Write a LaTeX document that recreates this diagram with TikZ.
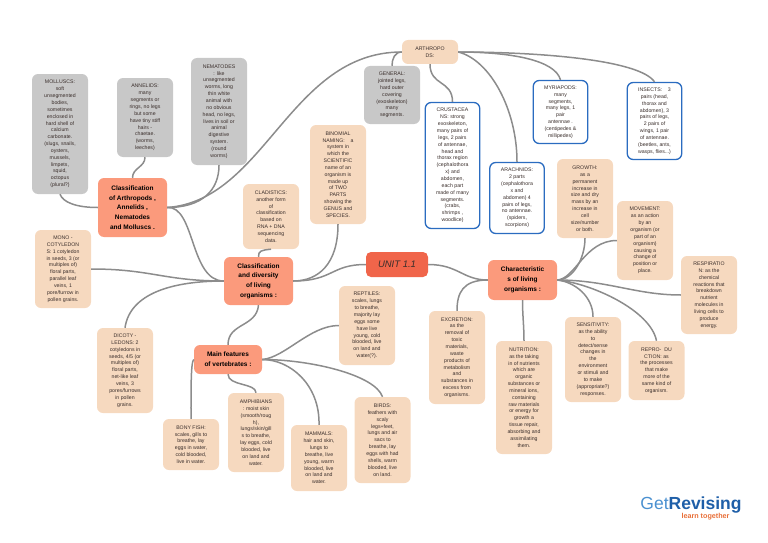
\documentclass[tikz,border=0pt]{standalone}
\usepackage{fontspec}
\usepackage{xcolor}
\setmainfont{Liberation Sans}
\definecolor{peach}{HTML}{F6D9BF}
\definecolor{ash}{HTML}{C8C8C8}
\definecolor{salmon}{HTML}{FB9A7C}
\definecolor{tomato}{HTML}{F0654A}
\definecolor{linegray}{HTML}{8C8C8C}
\definecolor{edgeblue}{HTML}{2B6CC0}
\definecolor{inkbrown}{HTML}{3A2E2B}
\definecolor{logoblue}{HTML}{4A90D0}
\definecolor{logonavy}{HTML}{1F5FA8}
\definecolor{logoorange}{HTML}{E8703A}
\tikzset{
    note/.style={rounded corners=6pt, inner sep=0pt, minimum width=56pt, align=center,
        text=inkbrown, font=\fontsize{5.2}{6.85}\selectfont},
    peachnote/.style={note, fill=peach},
    graynote/.style={note, fill=ash},
    bluenote/.style={note, fill=white, draw=edgeblue, line width=1.3pt, minimum width=54.5pt},
    topic/.style={rounded corners=6pt, fill=salmon, inner sep=0pt, minimum width=69pt, align=center,
        text=black, font=\fontsize{6.5}{9.7}\selectfont\bfseries},
    link/.style={draw=linegray, line width=1.5pt}
}

\begin{document}
\begin{tikzpicture}[x=1pt, y=-1pt]
    \useasboundingbox (0,0) rectangle (768,543);

    % Centre
    \node[rounded corners=5pt, fill=tomato, minimum width=62pt, minimum height=25pt, inner sep=0pt,
        text=inkbrown, font=\fontsize{9.5}{11}\selectfont\itshape] (unit) at (397,264.5) {UNIT 1.1};

    % Topics
    \node[topic, minimum height=59pt] (group) at (132.5,207.5) {Classification\\of Arthropods ,\\Annelids ,\\Nematodes\\and Molluscs .};
    \node[topic, minimum height=48pt] (classdiv) at (258.5,281) {Classification\\and diversity\\of living\\organisms :};
    \node[topic, minimum height=29pt, minimum width=68pt] (main) at (228,359.5) {Main features\\of vertebrates :};
    \node[topic, minimum height=40pt] (char) at (522.5,280) {Characteristic\\s of living\\organisms :};

    % Worms and molluscs
    \node[graynote, minimum height=120pt] (mollusc) at (60,134) {MOLLUSCS:\\soft\\unsegmented\\bodies,\\sometimes\\enclosed in\\hard shell of\\calcium\\carbonate.\\(slugs, snails,\\oysters,\\mussels,\\limpets,\\squid,\\octopus\\(plural?)};
    \node[graynote, minimum height=79pt] (annelid) at (145,117.5) {ANNELIDS:\\many\\segments or\\rings, no legs\\but some\\have tiny stiff\\hairs -\\chaetae.\\(worms,\\leeches)};
    \node[graynote, minimum height=107pt] (nematode) at (219,111.5) {NEMATODES\\: like\\unsegmented\\worms, long\\thin white\\animal with\\no obvious\\head, no legs,\\lives in soil or\\animal\\digestive\\system.\\(round\\worms)};

    % Arthropods
    \node[peachnote, minimum height=24pt] (arthropod) at (430,52) {ARTHROPO\\DS:};
    \node[graynote, minimum height=58pt] (general) at (392,95) {GENERAL:\\jointed legs,\\hard outer\\covering\\(exoskeleton)\\many\\segments.};
    \node[bluenote, minimum height=126pt] (crust) at (452.5,165.5) {CRUSTACEA\\NS: strong\\exoskeleton,\\many pairs of\\legs, 2 pairs\\of antennae,\\head and\\thorax region\\(cephalothora\\x) and\\abdomen,\\each part\\made of many\\segments.\\(crabs,\\shrimps ,\\woodlice)};
    \node[bluenote, minimum height=71pt] (arachnid) at (517,198) {ARACHNIDS:\\2 parts\\(cephalothora\\x and\\abdomen) 4\\pairs of legs,\\no antennae.\\(spiders,\\scorpions)};
    \node[bluenote, minimum height=63pt] (myriapod) at (560.5,112) {MYRIAPODS:\\many\\segments,\\many legs, 1\\pair\\antennae .\\(centipedes \&\\millipedes)};
    \node[bluenote, minimum height=77pt] (insect) at (654.5,121) {INSECTS:\ \ \ \ 3\\pairs (head,\\thorax and\\abdomen), 3\\pairs of legs,\\2 pairs of\\wings, 1 pair\\of antennae.\\(beetles, ants,\\wasps, flies...)};

    % Classification
    \node[peachnote, minimum height=65pt] (cladistics) at (271,216.5) {CLADISTICS:\\another form\\of\\classification\\based on\\RNA + DNA\\sequencing\\data.};
    \node[peachnote, minimum height=99pt] (binomial) at (338,174.5) {BINOMIAL\\NAMING:\ \ \ \ a\\system in\\which the\\SCIENTIFIC\\name of an\\organism is\\made up\\of TWO\\PARTS\\showing the\\GENUS and\\SPECIES.};
    \node[peachnote, minimum height=78pt] (mono) at (63,269) {MONO -\\COTYLEDON\\S: 1 cotyledon\\in seeds, 3 (or\\multiples of)\\floral parts,\\parallel leaf\\veins, 1\\pore/furrow in\\pollen grains.};
    \node[peachnote, minimum height=85pt] (dicot) at (125,370.5) {DICOTY -\\LEDONS: 2\\cotyledons in\\seeds, 4/5 (or\\multiples of)\\floral parts,\\net-like leaf\\veins, 3\\pores/furrows\\in pollen\\grains.};

    % Vertebrates
    \node[peachnote, minimum height=51pt] (fish) at (191,444.5) {BONY FISH:\\scales, gills to\\breathe, lay\\eggs in water,\\cold blooded,\\live in water.};
    \node[peachnote, minimum height=79pt] (amphibian) at (256,432.5) {AMPHIBIANS\\: moist skin\\(smooth/roug\\h),\\lungs/skin/gill\\s to breathe,\\lay eggs, cold\\blooded, live\\on land and\\water.};
    \node[peachnote, minimum height=66pt] (mammal) at (319,458) {MAMMALS:\\hair and skin,\\lungs to\\breathe, live\\young, warm\\blooded, live\\on land and\\water.};
    \node[peachnote, minimum height=86pt] (bird) at (382.5,440) {BIRDS:\\feathers with\\scaly\\legs+feet,\\lungs and air\\sacs to\\breathe, lay\\eggs with had\\shells, warm\\blooded, live\\on land.};
    \node[peachnote, minimum height=79pt] (reptile) at (367,325.5) {REPTILES:\\scales, lungs\\to breathe,\\majority lay\\eggs some\\have live\\young, cold\\blooded, live\\on land and\\water(?).};

    % Characteristics
    \node[peachnote, minimum height=93pt] (excretion) at (457,357.5) {EXCRETION:\\as the\\removal of\\toxic\\materials,\\waste\\products of\\metabolism\\and\\substances in\\excess from\\organisms.};
    \node[peachnote, minimum height=113pt] (nutrition) at (524,397.5) {NUTRITION:\\as the taking\\in of nutrients\\which are\\organic\\substances or\\mineral ions,\\containing\\raw materials\\or energy for\\growth a\\tissue repair,\\absorbing and\\assimilating\\them.};
    \node[peachnote, minimum height=85pt] (sensitivity) at (593,359.5) {SENSITIVITY:\\as the ability\\to\\detect/sense\\changes in\\the\\environment\\or stimuli and\\to make\\(appropriate?)\\responses.};
    \node[peachnote, minimum height=59pt] (repro) at (656.5,370.5) {REPRO-\ \ DU\\CTION: as\\the processes\\that make\\more of the\\same kind of\\organism.};
    \node[peachnote, minimum height=78pt] (respiration) at (709,295) {RESPIRATIO\\N: as the\\chemical\\reactions that\\breakdown\\nutrient\\molecules in\\living cells to\\produce\\energy.};
    \node[peachnote, minimum height=79pt] (movement) at (645,240.5) {MOVEMENT:\\as an action\\by an\\organism (or\\part of an\\organism)\\causing a\\change of\\position or\\place.};
    \node[peachnote, minimum height=79pt] (growth) at (585,198.5) {GROWTH:\\as a\\permanent\\increase in\\size and dry\\mass by an\\increase in\\cell\\size/number\\or both.};

    % Logo
    \node[inner sep=0pt, font=\fontsize{17.5}{18}\selectfont] (logo) at (691,505)
        {\textcolor{logoblue}{Get}\textcolor{logonavy}{\bfseries Revising}};
    \node[inner sep=0pt, text=logoorange, font=\fontsize{7.2}{8}\selectfont\bfseries] (slogan) at (705.5,516.5) {learn together};

    % Connectors around the centre
    \draw[link] (unit.west) .. controls +(-35,0) and +(40,0) .. (classdiv.east);
    \draw[link] (unit.east) .. controls +(30,0) and +(-25,0) .. (char.west);
    \draw[link] (binomial.south) .. controls +(0,40) and +(25,0) .. (classdiv.east);
    \draw[link] (cladistics.south) .. controls +(-10,1) and +(0,-6) .. (classdiv.north);
    \draw[link] (group.east) .. controls +(28,-2) and +(-34,0) .. (classdiv.west);
    \draw[link] (mono.east) .. controls +(60,0) and +(-60,0) .. (classdiv.west);
    \draw[link] (dicot.north) .. controls +(5,-35) and +(-50,0) .. (classdiv.west);
    \draw[link] (classdiv.south) .. controls +(-2,22) and +(0,-22) .. (main.north);

    % Vertebrates
    \draw[link] (main.east) .. controls +(23,-2) and +(-29,0) .. (reptile.west);
    \draw[link] (main.east) .. controls +(48,0) and +(-7.5,-22) .. (bird.north);
    \draw[link] (main.east) .. controls +(28,0) and +(1,-40) .. (mammal.north);
    \draw[link] (main.south) .. controls +(0,12) and +(0,-10) .. (amphibian.north);
    \draw[link] (main.west) .. controls +(-3,2) and +(0,-30) .. (fish.north);

    % Arthropods and the rest
    \draw[link] (group.west) .. controls +(-22,0) and +(3,8) .. (mollusc.south);
    \draw[link] (group.north) .. controls +(0,-10) and +(0,10) .. (annelid.south);
    \draw[link] (group.east) .. controls +(35,0) and +(0,25) .. (nematode.south);
    \draw[link] (group.east) .. controls +(98,-7) and +(-112,0) .. (arthropod.west);
    \draw[link] (arthropod.west) .. controls +(-7,0) and +(0,-7) .. (general.north);
    \draw[link] (arthropod.south) .. controls +(0,22) and +(0,-22) .. (crust.north);
    \draw[link] (arthropod.east) .. controls +(32,8) and +(0,-52) .. (arachnid.north);
    \draw[link] (arthropod.east) .. controls +(52,0) and +(-5.5,-20) .. (myriapod.north);
    \draw[link] (arthropod.east) .. controls +(82,0) and +(-15,-22) .. (insect.north);

    % Characteristics
    \draw[link] (char.west) .. controls +(-25,0) and +(0,-18) .. (excretion.north);
    \draw[link] (char.south) .. controls +(0,15) and +(0,-15) .. (nutrition.north);
    \draw[link] (char.east) .. controls +(18,2) and +(0,-20) .. (sensitivity.north);
    \draw[link] (char.east) .. controls +(33,3) and +(-6,-31) .. (repro.north);
    \draw[link] (char.east) .. controls +(50,0) and +(-45,0) .. (respiration.west);
    \draw[link] (char.east) .. controls +(18,-1) and +(-32,0) .. (movement.west);
    \draw[link] (char.east) .. controls +(16,0) and +(0,20) .. (growth.south);
\end{tikzpicture}
\end{document}
